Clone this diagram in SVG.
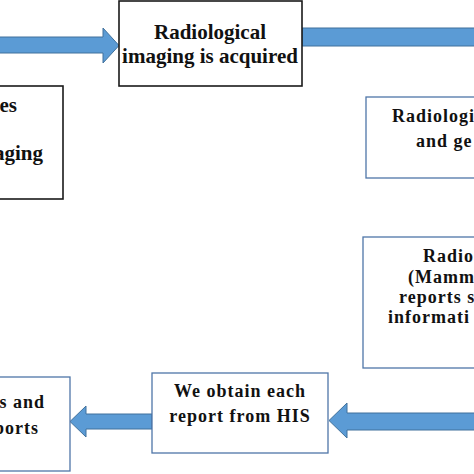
<svg xmlns="http://www.w3.org/2000/svg" width="474" height="474" viewBox="0 0 474 474">
<style>
.bk{fill:#fff;stroke:#1a1a1a;stroke-width:1.6}
.bl{fill:#fff;stroke:#4f76a8;stroke-width:1.3}
.ar{fill:#5b9bd5;stroke:#41719c;stroke-width:1}
.t1{font-family:"Liberation Serif","Times New Roman",serif;font-weight:bold;font-size:21px;fill:#111}
.t2{font-family:"Liberation Serif","Times New Roman",serif;font-weight:bold;font-size:18px;letter-spacing:1px;fill:#111}
</style>
<rect width="474" height="474" fill="#fff"/>
<g id="connectors">
<polygon class="ar" points="-2,37 103,37 103,28 119,45.5 103,63 103,53 -2,53"/>
<rect class="ar" x="302" y="28" width="176" height="18"/>
<polygon class="ar" points="478,413 347,413 347,403 329,420.5 347,438 347,430 478,430"/>
<polygon class="ar" points="152,414 86,414 86,406 70,421.5 86,437 86,429 152,429"/>
</g>
<g id="node-acquired">
<rect class="bk" x="119" y="1" width="183" height="85"/>
<text class="t1" x="210" y="39" text-anchor="middle">Radiological</text>
<text class="t1" x="210" y="63" text-anchor="middle">imaging is acquired</text>
</g>
<g id="node-left-top">
<rect class="bk" x="-5" y="86" width="68" height="113"/>
<text class="t1" x="17" y="112" text-anchor="end">es</text>
<text class="t1" x="43" y="160" text-anchor="end">aging</text>
</g>
<g id="node-right-top">
<rect class="bl" x="366" y="97" width="115" height="81"/>
<text class="t2" x="392" y="122">Radiologi</text>
<text class="t2" x="416" y="147">and ge</text>
</g>
<g id="node-right-bottom">
<rect class="bl" x="363" y="237" width="118" height="131"/>
<text class="t2" x="423" y="262">Radio</text>
<text class="t2" x="408" y="283">(Mamm</text>
<text class="t2" x="399" y="303">reports s</text>
<text class="t2" x="388" y="323">informati</text>
</g>
<g id="node-his">
<rect class="bl" x="152" y="373" width="176" height="80"/>
<text class="t2" x="240" y="397" text-anchor="middle">We obtain each</text>
<text class="t2" x="240" y="422" text-anchor="middle">report from HIS</text>
</g>
<g id="node-left-bottom">
<rect class="bl" x="-5" y="377" width="75" height="94"/>
<text class="t2" x="45" y="408" text-anchor="end">s and</text>
<text class="t2" x="39" y="434" text-anchor="end">ports</text>
</g>
</svg>
